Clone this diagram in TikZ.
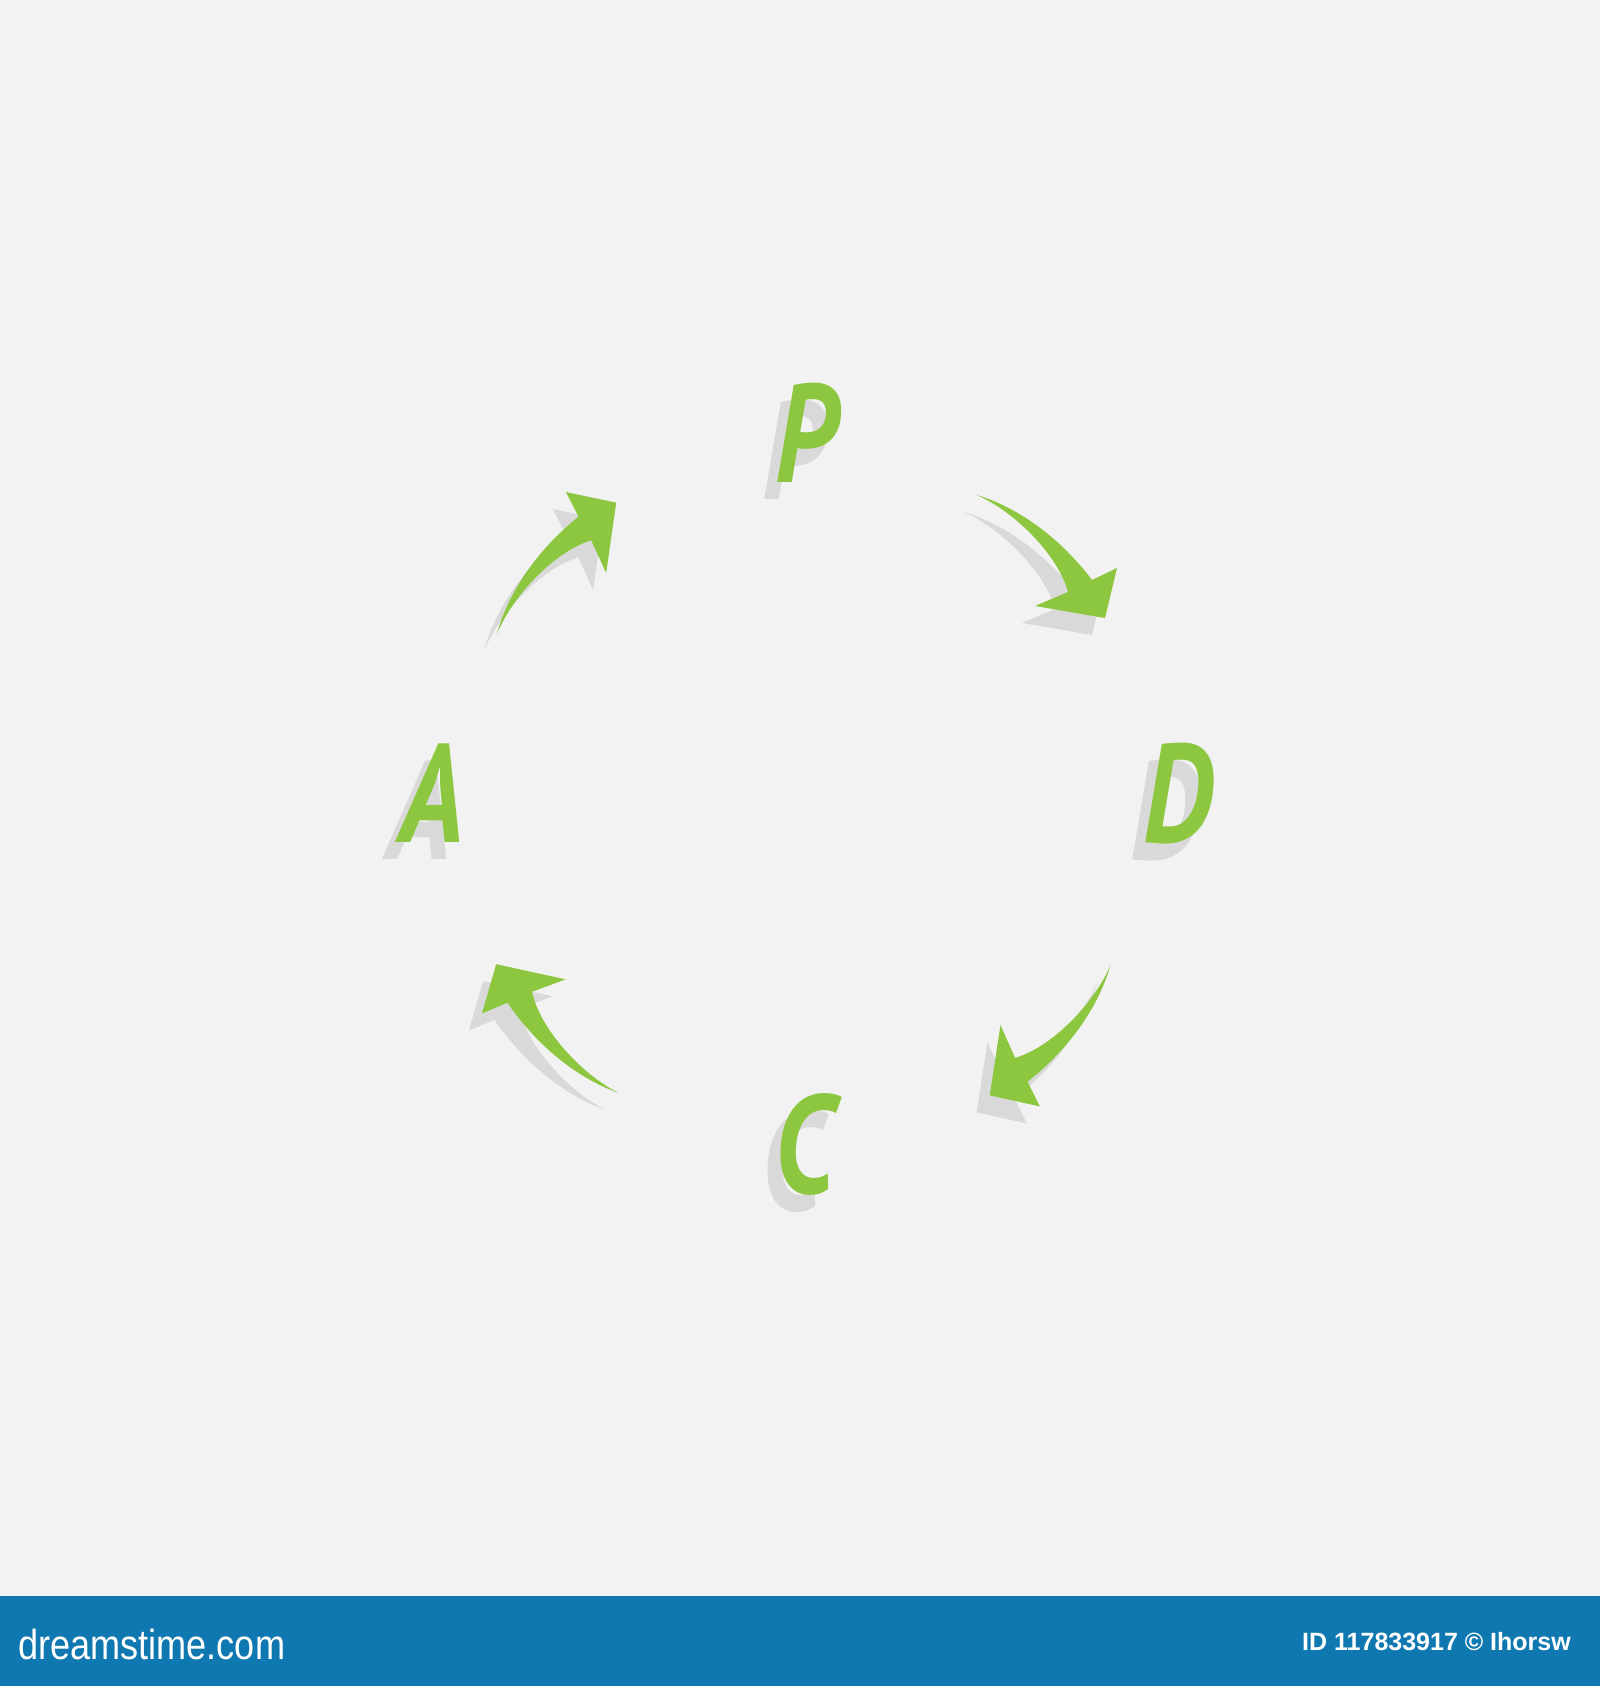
\documentclass[tikz,border=0pt]{standalone}
\usepackage{fontspec}
\newfontfamily\letterfont{PT Sans}
\newfontfamily\barfont{Liberation Sans}
\definecolor{bgc}{HTML}{F2F2F2}
\definecolor{greenc}{HTML}{8DC63F}
\definecolor{shadowc}{HTML}{D9D9D9}
\definecolor{barc}{HTML}{0F78B0}
\tikzset{
  arrowshape/.style={insert path={(977,495) .. controls (1020,508) and (1062,540) .. (1092,580) -- (1117,568) -- (1105,618) -- (1035,606) -- (1068,592) .. controls (1058,555) and (1015,512) .. (977,495) -- cycle}},
  letterstyle/.style={inner sep=0pt, anchor=base, xscale=0.8, transform shape, font=\letterfont\bfseries\itshape\fontsize{140}{140}\selectfont},
  shadowshift/.style={shift={(-13,17)}}
}
\begin{document}
\begin{tikzpicture}[x=1pt,y=-1pt]
\useasboundingbox (0,0) rectangle (1600,1686);
\fill[bgc] (0,0) rectangle (1600,1596);
\fill[barc] (0,1596) rectangle (1600,1686);
% shadows
\begin{scope}[shadowshift]
  \fill[shadowc, arrowshape];
  \begin{scope}[rotate around={-89:(804.5,798)}]\fill[shadowc, arrowshape];\end{scope}
  \begin{scope}[rotate around={-182.6:(804.5,798)}]\fill[shadowc, arrowshape];\end{scope}
  \begin{scope}[rotate around={91.6:(804.5,798)}]\fill[shadowc, arrowshape];\end{scope}
  \node[letterstyle, text=shadowc] (Ps) at (806,482) {P};
  \node[letterstyle, text=shadowc] (Ds) at (1178,842) {D};
  \node[letterstyle, text=shadowc] (Cs) at (805,1193) {C};
  \node[letterstyle, text=shadowc] (As) at (432,842) {A};
\end{scope}
% arrows
\fill[greenc, arrowshape];
\begin{scope}[rotate around={-89:(804.5,798)}]\fill[greenc, arrowshape];\end{scope}
\begin{scope}[rotate around={-182.6:(804.5,798)}]\fill[greenc, arrowshape];\end{scope}
\begin{scope}[rotate around={91.6:(804.5,798)}]\fill[greenc, arrowshape];\end{scope}
% letters
\node[letterstyle, text=greenc] (P) at (806,482) {P};
\node[letterstyle, text=greenc] (D) at (1178,842) {D};
\node[letterstyle, text=greenc] (C) at (805,1193) {C};
\node[letterstyle, text=greenc] (A) at (432,842) {A};
% bottom bar texts
\node[inner sep=0pt, anchor=base west, xscale=0.86, transform shape, text=white, font=\barfont\fontsize{42}{42}\selectfont] (logo) at (18,1659) {dreamstime.com};
\node[inner sep=0pt, anchor=base east, text=white, font=\barfont\bfseries\fontsize{25}{25}\selectfont] (id) at (1571,1650) {ID 117833917 © Ihorsw};
\end{tikzpicture}
\end{document}
